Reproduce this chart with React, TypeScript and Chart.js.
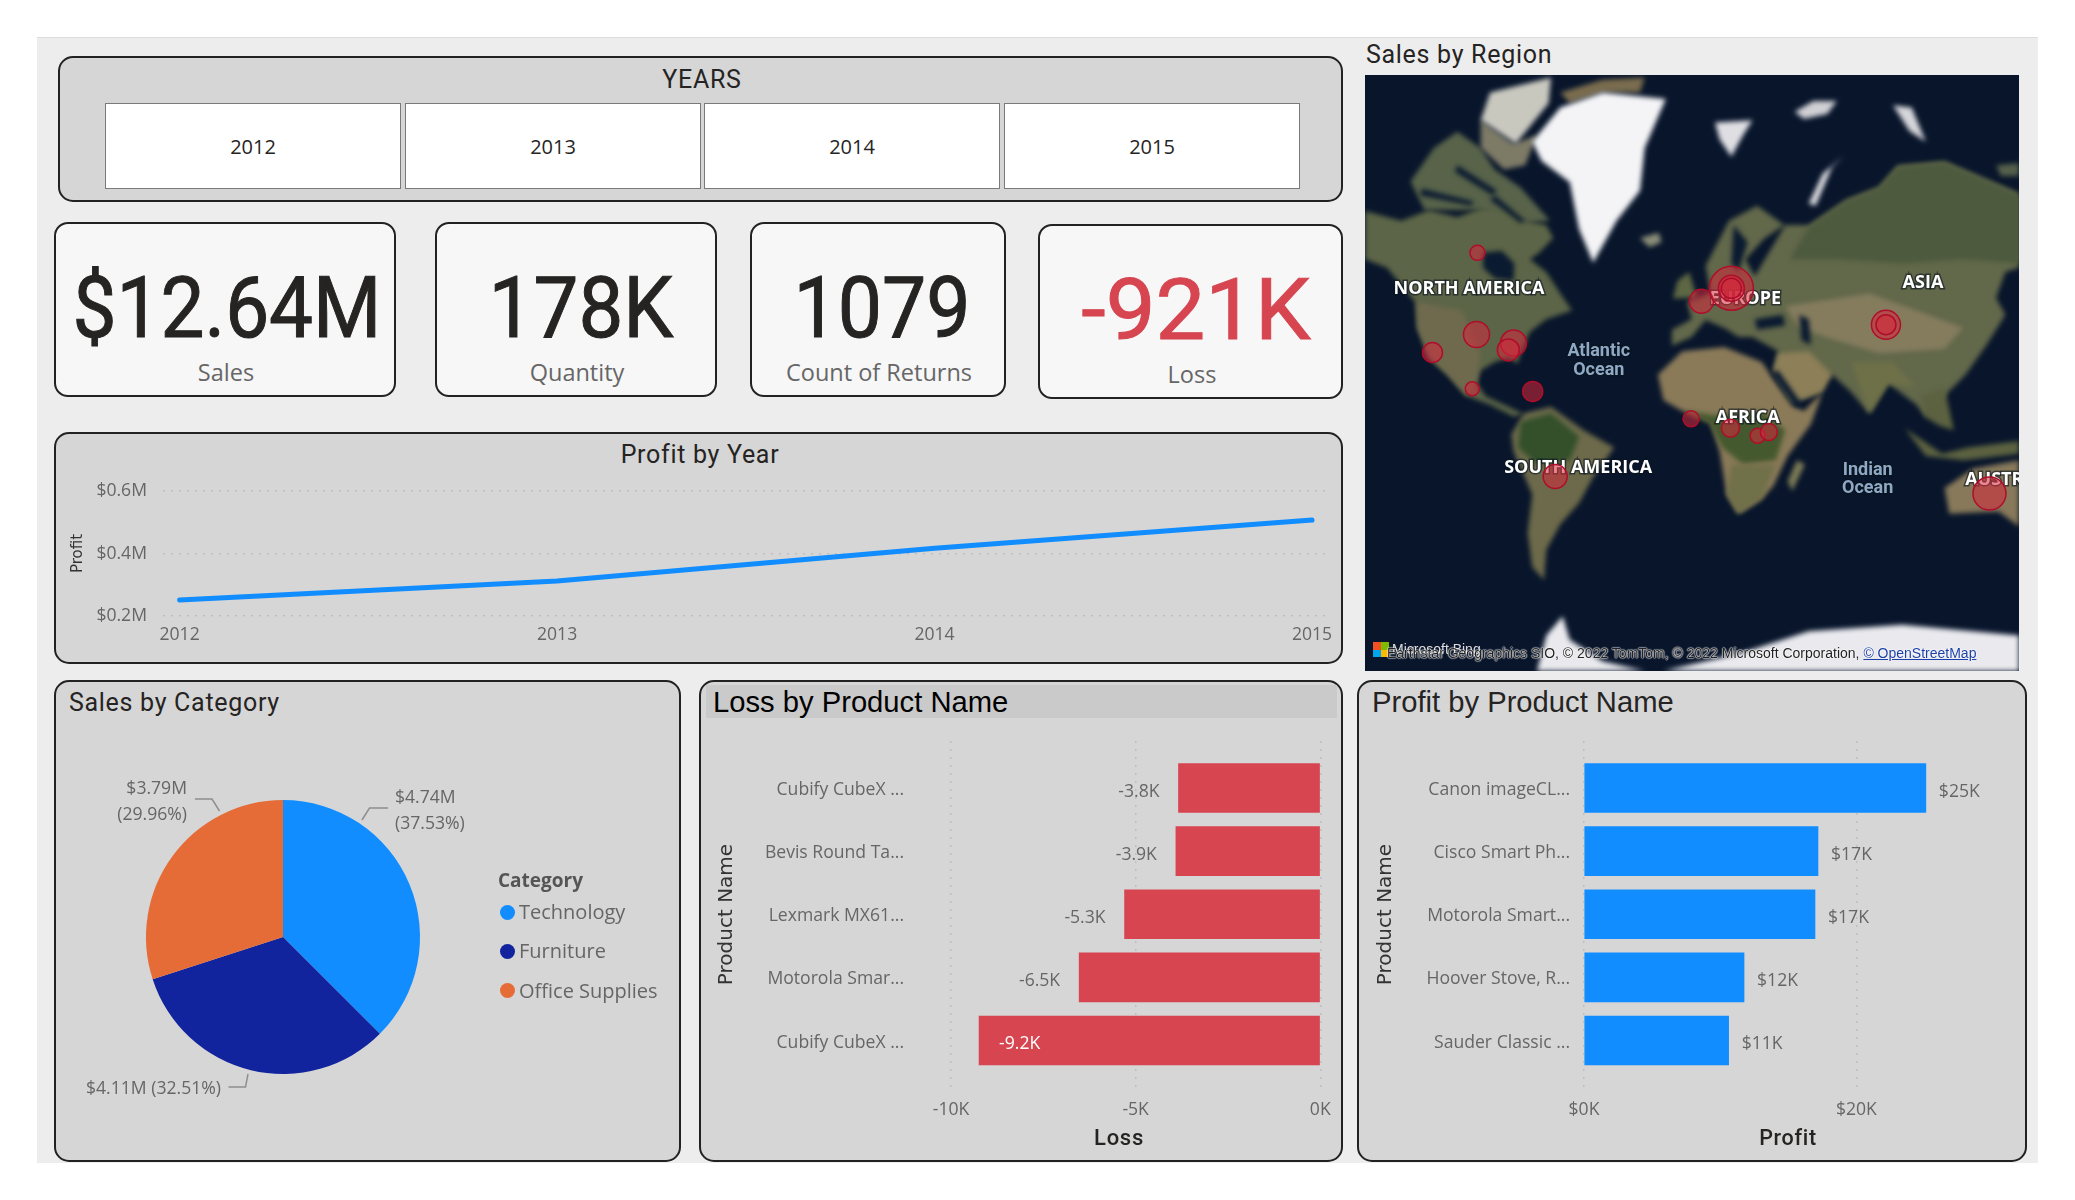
import React, { useEffect, useRef } from "react";
import { Chart, registerables } from "chart.js";

Chart.register(...registerables);

// ---------- data ----------
const yearButtons = ["2012", "2013", "2014", "2015"];
const profitYears = [2012, 2013, 2014, 2015];
const profitByYear = [0.251, 0.312, 0.417, 0.507];
const profitTicksM = [0.2, 0.4, 0.6];

const pieCategories = ["Technology", "Furniture", "Office Supplies"];
const pieSalesM = [4.74, 4.11, 3.79];
const piePercents = [37.53, 32.51, 29.96];
const pieColors = ["#118DFF", "#12239E", "#E66C37"];

const lossProducts = ["Cubify CubeX ...", "Bevis Round Ta...", "Lexmark MX61...", "Motorola Smar...", "Cubify CubeX ..."];
const lossValues = [-3840, -3910, -5300, -6530, -9240];

const profitProducts = ["Canon imageCL...", "Cisco Smart Ph...", "Motorola Smart...", "Hoover Stove, R...", "Sauder Classic ..."];
const profitValues = [25100, 17180, 16960, 11750, 10620];

// sales bubbles, in map units
const bubbleX = [293, 291, 370, 359, 197, 282, 411, 459, 771, 835, 835, 835, 1165, 1165, 749, 833, 891, 915, 1386];
const bubbleY = [545, 736, 756, 772, 778, 863, 869, 1068, 658, 628, 628, 628, 713, 713, 933, 955, 973, 964, 1108];
const bubbleSize = [7.5, 13, 13, 11, 10, 7, 10, 12, 12, 22, 13, 10, 14.5, 10, 8, 9, 7.5, 8.5, 16.5];

// ---------- decorative map geography, in map units ----------
type Poly = { c: string; p: number[] };
const mapLand: Poly[] = [
  { c: "#58634a", p: [150,378,200,300,250,262,300,300,330,350,385,392,448,470,400,475,300,445,180,445] },
  { c: "#5c6547", p: [53,447,130,470,190,445,250,462,300,440,370,440,400,470,440,480,455,510,425,545,405,560,440,590,470,640,495,680,440,700,405,730,385,780,378,805,362,790,330,800,300,820,292,850,310,880,350,900,392,922,370,928,320,900,270,880,230,830,190,790,165,720,160,660,130,620,100,580,53,560] },
  { c: "#6f6a4e", p: [165,660,260,680,300,780,290,850,270,880,230,830,190,790,165,720] },
  { c: "#7d7a66", p: [300,235,370,290,420,270,395,340,350,350,300,300] },
  { c: "#c9c8bf", p: [320,170,450,135,445,195,375,290,300,235] },
  { c: "#7a6c4e", p: [470,170,560,140,650,135,640,170,560,170,490,195] },
  { c: "#f4f4f6", p: [410,285,470,205,560,170,695,185,650,300,640,400,590,470,540,568,510,490,490,380,430,330] },
  { c: "#8a8d78", p: [640,510,680,498,686,520,660,532] },
  { c: "#6c6a4a", p: [392,920,450,905,520,960,585,1000,540,1070,510,1130,470,1180,440,1240,435,1310,410,1280,400,1200,410,1110,370,1010,365,970] },
  { c: "#33502a", p: [385,940,450,920,510,975,490,1030,420,1040,380,1000] },
  { c: "#8a7a58", p: [678,830,730,775,820,765,900,800,925,840,965,900,990,915,1030,870,1005,945,955,1020,925,1090,900,1120,850,1155,825,1110,810,1010,790,940,730,915,690,890] },
  { c: "#45592e", p: [735,915,800,925,900,915,950,960,930,1030,860,1040,815,1000,790,945] },
  { c: "#707049", p: [835,1040,930,1040,900,1120,850,1155,825,1110] },
  { c: "#7b7a55", p: [975,1030,992,1040,965,1102,955,1080] },
  { c: "#62684a", p: [708,725,750,700,740,660,790,640,780,575,830,470,890,435,948,480,905,512,865,560,885,600,950,480,1000,480,1080,420,1150,390,1190,340,1290,330,1449,405,1449,580,1420,590,1400,650,1420,690,1380,760,1335,830,1290,880,1250,930,1230,900,1170,850,1130,922,1090,870,1050,830,1035,840,1025,870,965,897,925,820,935,775,880,742,850,742,822,722,780,702,750,742,708,762] },
  { c: "#4d5a3e", p: [1000,485,1080,425,1150,395,1190,345,1290,335,1449,410,1449,570,1330,560,1200,570,1060,560,960,560] },
  { c: "#857c5e", p: [950,670,1130,640,1230,680,1330,720,1290,770,1150,780,1060,750,980,720] },
  { c: "#8d7f58", p: [935,780,1000,775,1050,830,1030,870,965,895,925,820] },
  { c: "#6e7048", p: [1090,800,1180,800,1230,860,1170,850,1130,920] },
  { c: "#5c6240", p: [1240,880,1290,860,1310,960,1280,950,1250,930] },
  { c: "#5d6744", p: [720,610,745,590,762,650,710,652] },
  { c: "#5c6240", p: [1205,955,1285,1015,1340,1000,1449,985,1449,1015,1330,1030,1250,1020] },
  { c: "#55604a", p: [1400,340,1449,335,1449,365,1410,365] },
  { c: "#87795a", p: [1290,1095,1350,1050,1449,1030,1449,1185,1405,1150,1300,1155] },
  { c: "#dfdfe3", p: [800,240,880,235,860,270,835,320,810,280] },
  { c: "#dcdce0", p: [1000,430,1030,360,1075,318,1050,345,1015,435] },
  { c: "#cfd0d4", p: [970,215,1010,190,1060,190,1040,220,990,232] },
  { c: "#d5d6da", p: [1180,200,1220,205,1250,285,1215,260] },
  { c: "#e9e9ee", p: [420,1523,440,1440,475,1395,490,1450,560,1500,650,1523] },
  { c: "#e9e9ee", p: [690,1523,860,1480,1000,1430,1200,1415,1449,1440,1449,1523] },
];
const mapWater: Poly[] = [
  { c: "#0a1a30", p: [305,545,345,540,372,570,370,610,330,605,305,580] },
  { c: "#0a1a30", p: [840,480,870,520,850,590,835,570] },
  { c: "#0a1a30", p: [885,700,945,690,950,715,890,725] },
  { c: "#0a1a30", p: [980,690,1000,700,1005,760,985,750] },
  { c: "#0a1a30", p: [920,825,935,820,990,905,970,905] },
  { c: "#0a1a30", p: [250,340,335,400,325,410,245,355] },
  { c: "#0a1a30", p: [175,395,285,425,280,435,170,410] },
  { c: "#0a1a30", p: [330,410,395,470,385,475,320,420] },
];
const mapPlaceLabels = [
  { t: "NORTH AMERICA", x: 275, y: 630, c: "#ffffff", s: 0 },
  { t: "EUROPE", x: 865, y: 652, c: "#ffffff", s: 0 },
  { t: "ASIA", x: 1244, y: 615, c: "#ffffff", s: 0 },
  { t: "AFRICA", x: 870, y: 930, c: "#ffffff", s: 0 },
  { t: "SOUTH AMERICA", x: 508, y: 1047, c: "#ffffff", s: 0 },
  { t: "AUSTRALIA", x: 1440, y: 1077, c: "#ffffff", s: 0 },
  { t: "Atlantic", x: 552, y: 775, c: "#8fa9c4", s: 1 },
  { t: "Ocean", x: 552, y: 819, c: "#8fa9c4", s: 1 },
  { t: "Indian", x: 1126, y: 1053, c: "#8fa9c4", s: 1 },
  { t: "Ocean", x: 1126, y: 1097, c: "#8fa9c4", s: 1 },
];

// ---------- look ----------
const OPEN = "'Open Sans', sans-serif";
const DIN = "Roboto, sans-serif";
const ARIAL = "'Liberation Sans', Arial, sans-serif";
const DEJA = "'DejaVu Sans', sans-serif";
const GREY = "#666666";
const RED = "#D64550";
const BLUE = "#118DFF";
const GRID = "#bfbfbf";
Chart.defaults.font.family = OPEN;
Chart.defaults.font.size = 17.6;
Chart.defaults.color = GREY;

const Box = ({ x, y, w, h, bg = "#d6d6d6", r = 15 }: any) => (
  <div style={{ position: "absolute", left: x, top: y, width: w, height: h, boxSizing: "border-box", background: bg, border: "2px solid #222", borderRadius: r }} />
);

const Txt = ({ x, y, a = "c", s = 1, style, children }: any) => (
  <div
    style={{
      position: "absolute", left: x, top: y, whiteSpace: "nowrap", lineHeight: 1,
      transform: a === "c" ? `translate(-50%,-50%) scaleX(${s})` : `translateY(-50%) scaleX(${s})`,
      transformOrigin: a === "c" ? "center" : "left center",
      ...style,
    }}
  >
    {children}
  </div>
);

const ChartBox = ({ x, y, w, h, config, bg }: any) => {
  const ref = useRef<HTMLCanvasElement>(null);
  useEffect(() => {
    const c = new Chart(ref.current as HTMLCanvasElement, config());
    return () => c.destroy();
  }, []);
  return (
    <canvas ref={ref} width={w} height={h} style={{ position: "absolute", left: x, top: y, width: w, height: h, background: bg }} />
  );
};

const dashedGrid = { color: GRID, lineWidth: 1.5, drawTicks: false };
const noBorder = { display: false, dash: [2, 6] };

const lineConfig = () => ({
  type: "line",
  data: {
    datasets: [{
      data: profitYears.map((yr, i) => ({ x: yr, y: profitByYear[i] })),
      borderColor: BLUE, borderWidth: 5, pointRadius: 0, tension: 0, borderCapStyle: "round",
    }],
  },
  options: {
    animation: false, responsive: false,
    layout: { padding: { top: 59, right: 13, left: 0, bottom: 0 } },
    plugins: { legend: { display: false }, tooltip: { enabled: false } },
    scales: {
      x: {
        type: "linear", min: 2011.956, max: 2015.045,
        afterBuildTicks: (s: any) => { s.ticks = profitYears.map((v) => ({ value: v })); },
        afterFit: (s: any) => { s.height = 48; },
        grid: { display: false, drawTicks: false }, border: { display: false },
        ticks: { padding: 8, autoSkip: false, maxRotation: 0, callback: (v: any) => String(v) },
      },
      y: {
        min: 0.2, max: 0.6,
        afterBuildTicks: (s: any) => { s.ticks = profitTicksM.map((v) => ({ value: v })); },
        afterFit: (s: any) => { s.width = 108; },
        grid: dashedGrid, border: noBorder,
        ticks: { padding: 16, callback: (v: any) => `$${Number(v).toFixed(1)}M` },
        title: { display: true, text: "Profit", color: "#333", font: { family: DEJA, size: 15 }, padding: { top: 14, bottom: 0 } },
      },
    },
  },
});

// leader lines and text beside the pie, placed relative to its centre
const pieCallouts = [
  { pts: [79, -117, 86.5, -129, 105, -129], x: 112, ys: [-139, -113], align: "left", two: true },
  { pts: [-35, 137, -37.5, 150, -54.5, 150], x: -62, ys: [152], align: "right", two: false },
  { pts: [-63.5, -126, -71, -138, -88, -138], x: -96, ys: [-148, -122], align: "right", two: true },
];
const piePlugin = {
  id: "pieCallouts",
  afterDatasetsDraw(chart: any) {
    const { ctx } = chart;
    const arc = chart.getDatasetMeta(0).data[0];
    const cx = arc.x, cy = arc.y;
    ctx.save();
    pieCallouts.forEach((c, i) => {
      ctx.strokeStyle = "#8f8f8f";
      ctx.lineWidth = 1.5;
      ctx.beginPath();
      ctx.moveTo(cx + c.pts[0], cy + c.pts[1]);
      ctx.lineTo(cx + c.pts[2], cy + c.pts[3]);
      ctx.lineTo(cx + c.pts[4], cy + c.pts[5]);
      ctx.stroke();
      ctx.font = `17.6px ${OPEN}`;
      ctx.fillStyle = GREY;
      ctx.textAlign = c.align;
      ctx.textBaseline = "middle";
      const money = `$${pieSalesM[i].toFixed(2)}M`;
      const pct = `(${piePercents[i].toFixed(2)}%)`;
      if (c.two) {
        ctx.fillText(money, cx + c.x, cy + c.ys[0]);
        ctx.fillText(pct, cx + c.x, cy + c.ys[1]);
      } else {
        ctx.fillText(`${money} ${pct}`, cx + c.x, cy + c.ys[0]);
      }
    });
    ctx.restore();
  },
};

const pieConfig = () => ({
  type: "pie",
  data: { labels: pieCategories, datasets: [{ data: pieSalesM, backgroundColor: pieColors, borderWidth: 0 }] },
  options: {
    animation: false, responsive: false,
    layout: { padding: { left: 91, top: 120, right: 261, bottom: 88 } },
    plugins: { legend: { display: false }, tooltip: { enabled: false } },
  },
  plugins: [piePlugin],
});

const barLabels = (fmt: (v: number) => string, isLoss: boolean) => ({
  id: "barLabels",
  afterDatasetsDraw(chart: any) {
    const { ctx, chartArea } = chart;
    const ds = chart.data.datasets[0];
    ctx.save();
    ctx.font = `17.6px ${OPEN}`;
    ctx.textBaseline = "middle";
    chart.getDatasetMeta(0).data.forEach((bar: any, i: number) => {
      const text = fmt(ds.data[i].x);
      if (isLoss) {
        const inside = bar.x - chartArea.left < ctx.measureText(text).width + 20;
        ctx.fillStyle = inside ? "#ffffff" : GREY;
        ctx.textAlign = inside ? "left" : "right";
        ctx.fillText(text, inside ? bar.x + 20 : bar.x - 19, bar.y + 3.5);
      } else {
        ctx.fillStyle = GREY;
        ctx.textAlign = "left";
        ctx.fillText(text, bar.x + 13, bar.y + 3.5);
      }
    });
    ctx.restore();
  },
});

const barConfig = (o: any) => ({
  type: "bar",
  data: {
    datasets: [{
      data: o.values.map((v: number, i: number) => ({ x: v, y: i })),
      backgroundColor: o.color, barThickness: 49, borderWidth: 0,
    }],
  },
  options: {
    animation: false, responsive: false, indexAxis: "y",
    layout: { padding: { top: 61, right: o.right, left: 0, bottom: 0 } },
    plugins: { legend: { display: false }, tooltip: { enabled: false } },
    scales: {
      x: {
        type: "linear", min: o.min, max: o.max, offset: false,
        afterBuildTicks: (s: any) => { s.ticks = o.ticks.map((v: number) => ({ value: v })); },
        afterFit: (s: any) => { s.height = 73; },
        grid: dashedGrid, border: noBorder,
        ticks: { padding: 11.3, maxRotation: 0, autoSkip: false, callback: o.tick },
      },
      y: {
        type: "linear", reverse: true, min: -0.745, max: 4.752, offset: false,
        afterBuildTicks: (s: any) => { s.ticks = o.names.map((_: string, i: number) => ({ value: i })); },
        afterFit: (s: any) => { s.width = o.yWidth; },
        grid: { display: false, drawTicks: false, offset: false }, border: { display: false },
        ticks: { padding: o.tickPad, autoSkip: false, labelOffset: 2, callback: (v: any) => o.names[v] },
        title: { display: true, text: "Product Name", color: "#333", font: { family: DEJA, size: 20 }, padding: { top: o.titlePad, bottom: 0 } },
      },
    },
  },
  plugins: [barLabels(o.label, o.isLoss)],
});

const lossConfig = () => barConfig({
  values: lossValues, names: lossProducts, color: RED, min: -10000, max: 0, ticks: [-10000, -5000, 0],
  tick: (v: any) => `${Number(v) / 1000}K`, right: 20.6, yWidth: 251, tickPad: 47, titlePad: 15,
  label: (v: number) => `${(v / 1000).toFixed(1)}K`, isLoss: true,
});
const profitConfig = () => barConfig({
  values: profitValues, names: profitProducts, color: BLUE, min: 0, max: 30000, ticks: [0, 20000],
  tick: (v: any) => `$${Number(v) / 1000}K`, right: 32.4, yWidth: 225, tickPad: 14, titlePad: 14.5,
  label: (v: number) => `$${(v / 1000).toFixed(0)}K`, isLoss: false,
});

const mapPlugin = {
  id: "mapBase",
  beforeDatasetsDraw(chart: any) {
    const { ctx, scales } = chart;
    const X = (v: number) => scales.x.getPixelForValue(v);
    const Y = (v: number) => scales.y.getPixelForValue(v);
    const fill = (list: Poly[]) =>
      list.forEach(({ c, p }) => {
        ctx.fillStyle = c;
        ctx.beginPath();
        for (let i = 0; i < p.length; i += 2) {
          if (i === 0) ctx.moveTo(X(p[i]), Y(p[i + 1]));
          else ctx.lineTo(X(p[i]), Y(p[i + 1]));
        }
        ctx.closePath();
        ctx.fill();
      });
    ctx.save();
    ctx.filter = "blur(2.5px)";
    fill(mapLand);
    fill(mapWater);
    ctx.filter = "none";
    ctx.textAlign = "center";
    ctx.textBaseline = "middle";
    mapPlaceLabels.forEach((l) => {
      ctx.font = l.s ? `bold 18px ${DIN}` : `bold 18px ${OPEN}`;
      ctx.lineWidth = 3;
      ctx.strokeStyle = "rgba(10,20,30,0.6)";
      ctx.strokeText(l.t, X(l.x), Y(l.y));
      ctx.fillStyle = l.c;
      ctx.fillText(l.t, X(l.x), Y(l.y));
    });
    ctx.restore();
  },
};

const mapConfig = () => ({
  type: "bubble",
  data: {
    datasets: [{
      data: bubbleX.map((x, i) => ({ x, y: bubbleY[i], r: bubbleSize[i] })),
      backgroundColor: "rgba(214,40,60,0.55)", borderColor: "#b00d2a", borderWidth: 1.5,
    }],
  },
  options: {
    animation: false, responsive: false,
    layout: { autoPadding: false },
    plugins: { legend: { display: false }, tooltip: { enabled: false } },
    scales: {
      x: { type: "linear", display: false, min: 53, max: 1449 },
      y: { type: "linear", display: false, min: 129, max: 1523, reverse: true },
    },
  },
  plugins: [mapPlugin],
});

const kpis = [
  { v: "$12.64M", l: "Sales", x: 54, w: 342, y: 222, h: 175, vx: 227, lx: 226, c: "#252423", s: 0.91 },
  { v: "178K", l: "Quantity", x: 435, w: 282, y: 222, h: 175, vx: 581, lx: 577, c: "#252423", s: 0.93 },
  { v: "1079", l: "Count of Returns", x: 750, w: 256, y: 222, h: 175, vx: 882, lx: 879, c: "#252423", s: 0.915 },
  { v: "-921K", l: "Loss", x: 1038, w: 305, y: 224, h: 175, vx: 1196, lx: 1192, c: RED, s: 1.03 },
];
const buttonX = [105, 405, 704, 1004];

export default function App() {
  const head = { fontFamily: DIN, color: "#252423", letterSpacing: 0.7 };
  return (
    <div style={{ position: "absolute", left: 0, top: 0, width: 2075, height: 1200, background: "#fff", overflow: "hidden" }}>
      <div style={{ position: "absolute", left: 37, top: 37, width: 2001, height: 1126, background: "#ededed", borderTop: "1px solid #dcdcdc", boxSizing: "border-box" }} />

      <Box x={58} y={56} w={1285} h={146} />
      <Txt x={702} y={79} style={{ ...head, fontSize: 25 }}>YEARS</Txt>
      {yearButtons.map((b, i) => (
        <React.Fragment key={b}>
          <div style={{ position: "absolute", left: buttonX[i], top: 103, width: 296, height: 86, boxSizing: "border-box", background: "#fff", border: "1.5px solid #7a7a7a" }} />
          <Txt x={buttonX[i] + 148} y={147} style={{ fontFamily: OPEN, fontSize: 20, color: "#252423" }}>{b}</Txt>
        </React.Fragment>
      ))}

      {kpis.map((k) => (
        <React.Fragment key={k.l}>
          <Box x={k.x} y={k.y} w={k.w} h={k.h} bg="#f7f7f7" r={14} />
          <Txt x={k.vx} y={k.y + 86} s={k.s} style={{ fontFamily: DIN, fontWeight: 400, fontSize: 86, color: k.c, WebkitTextStroke: `1px ${k.c}` }}>{k.v}</Txt>
          <Txt x={k.lx} y={k.y + 151} style={{ fontFamily: OPEN, fontSize: 23.5, color: GREY }}>{k.l}</Txt>
        </React.Fragment>
      ))}

      <Box x={54} y={432} w={1289} h={232} />
      <Txt x={700} y={454} style={{ ...head, fontSize: 25 }}>Profit by Year</Txt>
      <ChartBox x={55} y={432} w={1287} h={232} config={lineConfig} />

      <Txt x={1366} y={54} a="l" style={{ ...head, fontSize: 25 }}>Sales by Region</Txt>
      <ChartBox x={1365} y={75} w={654} h={596} config={mapConfig} bg="#08152b" />
      <div style={{ position: "absolute", left: 1373, top: 642, width: 16, height: 15, display: "grid", gridTemplateColumns: "1fr 1fr", gridTemplateRows: "1fr 1fr" }}>
        <div style={{ background: "#f25022" }} /><div style={{ background: "#7fba00" }} />
        <div style={{ background: "#00a4ef" }} /><div style={{ background: "#ffb900" }} />
      </div>
      <Txt x={1392} y={649} a="l" style={{ fontFamily: ARIAL, fontSize: 14, color: "#ddd" }}>Microsoft Bing</Txt>
      <Txt x={1387} y={653} a="l" style={{ fontFamily: ARIAL, fontSize: 14, color: "#222", textShadow: "0 0 1.5px #fff, 0 0 1.5px #fff, 0 0 1.5px #fff" }}>
        Earthstar Geographics SIO, © 2022 TomTom, © 2022 Microsoft Corporation, <span style={{ color: "#1a3fa8", textDecoration: "underline" }}>© OpenStreetMap</span>
      </Txt>

      <Box x={54} y={680} w={627} h={482} />
      <Txt x={69} y={702} a="l" style={{ ...head, fontSize: 25 }}>Sales by Category</Txt>
      <ChartBox x={55} y={680} w={626} h={482} config={pieConfig} />
      <Txt x={498} y={880} a="l" style={{ fontFamily: OPEN, fontWeight: 700, fontSize: 19, color: "#555" }}>Category</Txt>
      {pieCategories.map((c, i) => (
        <React.Fragment key={c}>
          <div style={{ position: "absolute", left: 499.5, top: 904.5 + i * 39.3, width: 15, height: 15, borderRadius: "50%", background: pieColors[i] }} />
          <Txt x={519} y={912 + i * 39.3} a="l" style={{ fontFamily: OPEN, fontSize: 20, color: GREY }}>{c}</Txt>
        </React.Fragment>
      ))}

      <Box x={699} y={680} w={644} h={482} />
      <div style={{ position: "absolute", left: 706, top: 685, width: 631, height: 33, background: "#cacaca" }} />
      <Txt x={713} y={703} a="l" style={{ fontFamily: ARIAL, fontSize: 29.2, color: "#000" }}>Loss by Product Name</Txt>
      <ChartBox x={700} y={680} w={642} h={481} config={lossConfig} />
      <Txt x={1119} y={1138} style={{ ...head, fontSize: 22, fontWeight: 500 }}>Loss</Txt>

      <Box x={1357} y={680} w={670} h={482} />
      <Txt x={1372} y={703} a="l" style={{ fontFamily: ARIAL, fontSize: 29.2, color: "#252423" }}>Profit by Product Name</Txt>
      <ChartBox x={1359} y={680} w={666} h={481} config={profitConfig} />
      <Txt x={1788} y={1138} style={{ ...head, fontSize: 21.5, fontWeight: 500 }}>Profit</Txt>
    </div>
  );
}
